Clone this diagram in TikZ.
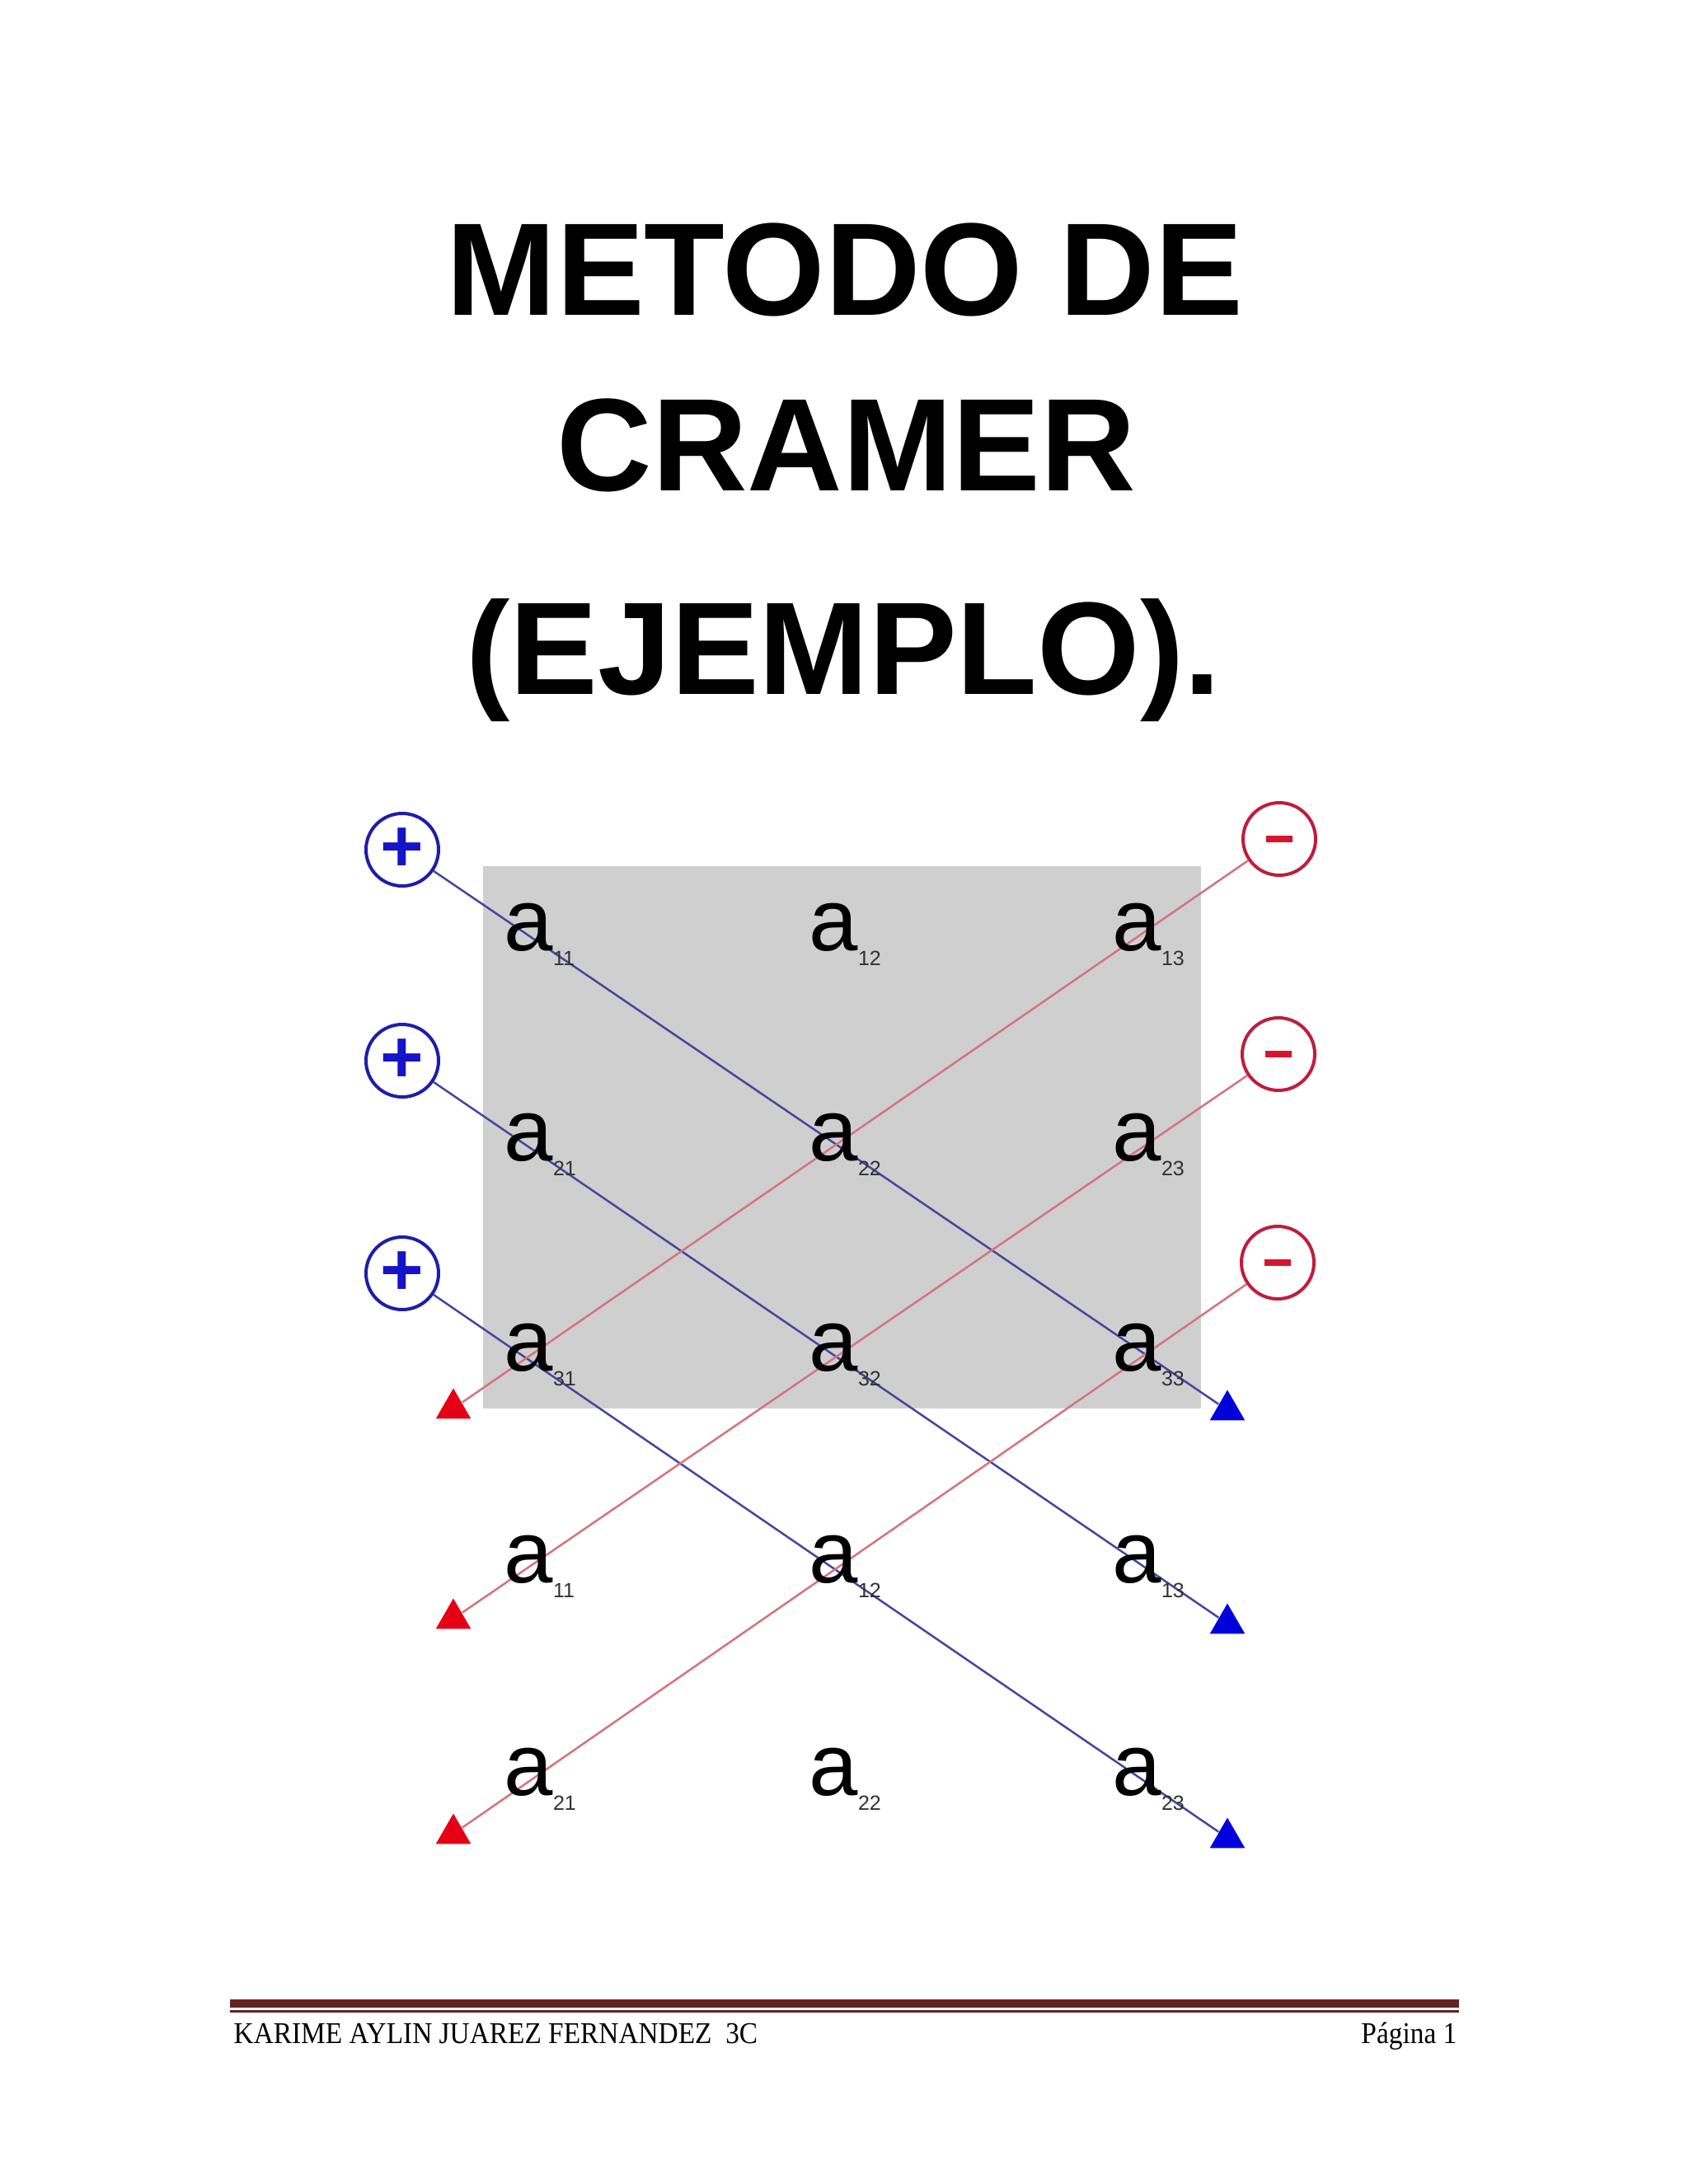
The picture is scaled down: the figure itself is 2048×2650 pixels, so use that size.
\documentclass[tikz,border=0pt]{standalone}
\usepackage{fontspec}
\usepackage{graphicx}
\setmainfont{Liberation Serif}
\newfontfamily\sansf{Liberation Sans}
\usetikzlibrary{shapes.geometric}
\newdimen\pxu \pxu=0.29996pt
\newcommand\mysubfont{\sansf\fontsize{7.5}{7.5}\selectfont}
\newcommand\minusbar{\rule{32\pxu}{8\pxu}}
\definecolor{rectgray}{RGB}{207,207,208}
\definecolor{lineblue}{RGB}{70,70,160}
\definecolor{linered}{RGB}{215,115,125}
\definecolor{circblue}{RGB}{30,30,170}
\definecolor{plusblue}{RGB}{20,20,200}
\definecolor{circred}{RGB}{190,30,60}
\definecolor{minusred}{RGB}{215,20,45}
\definecolor{trired}{RGB}{230,0,20}
\definecolor{triblue}{RGB}{0,0,220}
\definecolor{maroon}{RGB}{98,36,35}
\definecolor{subgray}{RGB}{50,50,50}
\begin{document}
\begin{tikzpicture}[x=0.29996pt, y=-0.29996pt,
  titletext/.style={anchor=base, inner sep=0pt, font=\sansf\bfseries\fontsize{48}{48}\selectfont},
  elem/.style={anchor=base west, inner sep=0pt, font=\sansf\fontsize{32}{32}\selectfont},
  pluscirc/.style={circle, draw=circblue, line width=4\pxu, minimum size=88\pxu, inner sep=0pt, text=plusblue, font=\sansf\bfseries\fontsize{27}{27}\selectfont},
  minuscirc/.style={circle, draw=circred, line width=4\pxu, minimum size=88\pxu, inner sep=0pt, text=minusred},
  redtri/.style={regular polygon, regular polygon sides=3, fill=trired, minimum size=49\pxu, inner sep=0pt},
  bluetri/.style={regular polygon, regular polygon sides=3, fill=triblue, minimum size=49\pxu, inner sep=0pt},
  blueline/.style={draw=lineblue, line width=2.5\pxu},
  redline/.style={draw=linered, line width=2.5\pxu},
  foottext/.style={inner sep=0pt, font=\fontsize{11}{11}\selectfont}
]
\useasboundingbox (0,0) rectangle (2048,2650);
\fill[white] (0,0) rectangle (2048,2650);

% title
\node[titletext] (t1) at (1025,382) {METODO DE};
\node[titletext] (t2) at (1027,595) {CRAMER};
\node[titletext] (t3) at (1023,842) {(EJEMPLO).};

% gray matrix background
\fill[rectgray] (586,1051) rectangle (1457,1709);

% sign circles
\node[pluscirc] (p1) at (488,1031) {+};
\node[pluscirc] (p2) at (488,1287) {+};
\node[pluscirc] (p3) at (488,1545) {+};
\node[minuscirc] (m1) at (1552,1018) {\minusbar};
\node[minuscirc] (m2) at (1551,1279) {\minusbar};
\node[minuscirc] (m3) at (1550,1532) {\minusbar};

% arrow triangles
\node[redtri] (r1) at (550,1709) {};
\node[redtri] (r2) at (550,1964) {};
\node[redtri] (r3) at (550,2225) {};
\node[bluetri] (b1) at (1489,1711) {};
\node[bluetri] (b2) at (1489,1970) {};
\node[bluetri] (b3) at (1489,2230) {};

% diagonals
\draw[blueline] (p1) -- (b1);
\draw[blueline] (p2) -- (b2);
\draw[blueline] (p3) -- (b3);
\draw[redline] (m1) -- (r1);
\draw[redline] (m2) -- (r2);
\draw[redline] (m3) -- (r3);

% elements
\node[elem] (e11) at (611,1153) {a\raisebox{-5.5pt}{\mysubfont\color{subgray}11}};
\node[elem] (e12) at (981,1153) {a\raisebox{-5.5pt}{\mysubfont\color{subgray}12}};
\node[elem] (e13) at (1349,1153) {a\raisebox{-5.5pt}{\mysubfont\color{subgray}13}};
\node[elem] (e21) at (611,1408) {a\raisebox{-5.5pt}{\mysubfont\color{subgray}21}};
\node[elem] (e22) at (981,1408) {a\raisebox{-5.5pt}{\mysubfont\color{subgray}22}};
\node[elem] (e23) at (1349,1408) {a\raisebox{-5.5pt}{\mysubfont\color{subgray}23}};
\node[elem] (e31) at (611,1663) {a\raisebox{-5.5pt}{\mysubfont\color{subgray}31}};
\node[elem] (e32) at (981,1663) {a\raisebox{-5.5pt}{\mysubfont\color{subgray}32}};
\node[elem] (e33) at (1349,1663) {a\raisebox{-5.5pt}{\mysubfont\color{subgray}33}};
\node[elem] (f11) at (611,1920) {a\raisebox{-5.5pt}{\mysubfont\color{subgray}11}};
\node[elem] (f12) at (981,1920) {a\raisebox{-5.5pt}{\mysubfont\color{subgray}12}};
\node[elem] (f13) at (1349,1920) {a\raisebox{-5.5pt}{\mysubfont\color{subgray}13}};
\node[elem] (f21) at (611,2178) {a\raisebox{-5.5pt}{\mysubfont\color{subgray}21}};
\node[elem] (f22) at (981,2178) {a\raisebox{-5.5pt}{\mysubfont\color{subgray}22}};
\node[elem] (f23) at (1349,2178) {a\raisebox{-5.5pt}{\mysubfont\color{subgray}23}};

% footer
\fill[maroon] (279,2426) rectangle (1770,2436);
\fill[maroon] (279,2439) rectangle (1770,2442);
\node[foottext, anchor=base west] (fl) at (283,2479) {\scalebox{0.91}[1]{KARIME AYLIN JUAREZ FERNANDEZ\ \ 3C}};
\node[foottext, anchor=base east] (fr) at (1768,2479) {\scalebox{0.91}[1]{Página 1}};
\end{tikzpicture}
\end{document}
